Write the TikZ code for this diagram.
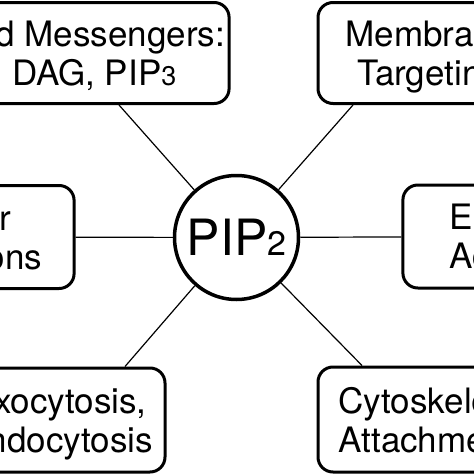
\documentclass[tikz,border=0pt]{standalone}
\usepackage{fontspec}
\setmainfont{TeX Gyre Heros}
\newcommand\lowdigit[2]{{\fontsize{#1}{#1}\selectfont #2}}
\begin{document}
\begin{tikzpicture}[x=1pt,y=-1pt,
  box/.style={draw, line width=3pt, rounded corners=15pt, inner sep=2pt, align=center, text depth=0pt, font=\fontsize{35}{39}\selectfont},
  hub/.style={draw, circle, line width=3.5pt, minimum size=124pt, inner sep=0pt},
  link/.style={line width=1.2pt}]
\useasboundingbox (0,0) rectangle (474,474);
\fill[white] (0,0) rectangle (474,474);
\clip (0,0) rectangle (474,474);
\node[hub] (pip) at (236.5,237.5) {\fontsize{50}{50}\selectfont PIP\lowdigit{34}{2}};
\node[box, minimum width=337pt, minimum height=101pt] (tl) at (60.6,53) {Second Messengers:\\IP\lowdigit{27}{3}, DAG, PIP\lowdigit{27}{3}};
\node[box, minimum width=222pt, minimum height=101pt] (tr) at (429,53) {Membrane\\Targeting};
\node[box, minimum width=214pt, minimum height=103pt] (lf) at (-32.9,237) {Other\\Functions};
\node[box, align=left, minimum width=244pt, minimum height=103pt] (rt) at (524.9,236.5) {Enzyme\\Activation};
\node[box, minimum width=212.6pt, minimum height=104pt] (bl) at (58.7,420) {Exocytosis,\\Endocytosis};
\node[box, align=left, minimum width=230.6pt, minimum height=105pt] (br) at (433.3,419.5) {Cytoskeletal\\Attachment};
\draw[link] (pip) -- ([xshift=58.4pt]tl.south);
\draw[link] (pip) -- ([xshift=-76pt]tr.south);
\draw[link] (pip) -- (lf);
\draw[link] (pip) -- (rt);
\draw[link] (pip) -- ([xshift=66.3pt]bl.north);
\draw[link] (pip) -- ([xshift=-71.3pt]br.north);
\end{tikzpicture}
\end{document}
